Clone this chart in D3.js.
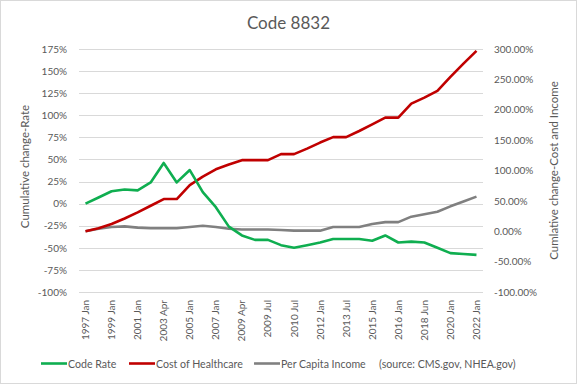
<!DOCTYPE html>
<html>
<head>
<meta charset="utf-8">
<script src="https://cdn.jsdelivr.net/npm/d3@7"></script>
<style>
  body { margin: 0; background: #fff; }
  svg { font-family: Lato, "Open Sans", sans-serif; }
</style>
</head>
<body>
<svg></svg>
<script>
let categories = ['1997 Jan', '1998 Jan', '1999 Jan', '2000 Jan', '2001 Jan', '2002 Jan', '2003 Apr', '2004 Jan',
                  '2005 Jan', '2006 Jan', '2007 Jan', '2008 Jan', '2009 Apr', '2009 Jun', '2009 Jul', '2010 Jan',
                  '2010 Jul', '2011 Jan', '2012 Jan', '2013 Jan', '2013 Jul', '2014 Jan', '2015 Jan', '2015 Jul',
                  '2016 Jan', '2017 Jan', '2018 Jun', '2019 Jan', '2020 Jan', '2021 Jan', '2022 Jan']
// percent values
let codeRate = [0, 7, 14, 16, 15, 24, 46, 24, 38, 13, -4, -26, -36, -41, -41, -47,
                -50, -47, -44, -40, -40, -40, -42, -36, -44, -43, -44, -50, -56, -57, -58]
let costHealthcare = [0, 5, 12, 21, 31, 42, 53, 53, 76, 90, 102, 110, 117, 117, 117, 127,
                      127, 136, 146, 155, 155, 165, 176, 187, 187, 210, 220, 231, 254, 276, 297]
let perCapitaIncome = [0, 4, 7, 8, 6, 5, 5, 5, 7, 9, 7, 4, 3, 3, 3, 2,
                       1, 1, 1, 7, 7, 7, 12, 15, 15, 24, 28, 32, 41, 49, 57]
let leftTicks = [-100, -75, -50, -25, 0, 25, 50, 75, 100, 125, 150, 175]
let rightTicks = [-100, -50, 0, 50, 100, 150, 200, 250, 300]

let w = 577
let h = 384
let plotLeft = 79
let plotRight = 483
let plotTop = 49
let plotBottom = 292
let textColor = '#595959'

let svg = d3.select('svg').attr('width', w).attr('height', h)

svg.append('rect')
   .attr('x', 0.5).attr('y', 0.5)
   .attr('width', w - 1).attr('height', h - 1)
   .attr('fill', '#fff').attr('stroke', '#d9d9d9')

let x = d3.scaleBand().domain(categories).range([plotLeft, plotRight]).padding(0)
let xc = (d) => x(d) + x.bandwidth() / 2
let yLeft = d3.scaleLinear().domain([-100, 175]).range([plotBottom, plotTop])
let yRight = d3.scaleLinear().domain([-100, 300]).range([plotBottom, plotTop])

// title
svg.append('text')
   .attr('x', w / 2).attr('y', 29)
   .attr('text-anchor', 'middle')
   .attr('font-size', '17px')
   .attr('fill', textColor)
   .text('Code 8832')

// gridlines
svg.append('g')
   .selectAll('line')
   .data(leftTicks)
   .enter()
   .append('line')
   .attr('x1', plotLeft).attr('x2', plotRight)
   .attr('y1', (d) => Math.round(yLeft(d)) + 0.5)
   .attr('y2', (d) => Math.round(yLeft(d)) + 0.5)
   .attr('stroke', '#d9d9d9')

// left axis
let leftAxis = d3.axisLeft(yLeft).tickValues(leftTicks).tickSize(0).tickPadding(12)
                 .tickFormat((d) => d + '%')
let gl = svg.append('g').attr('transform', 'translate(' + plotLeft + ',0)').call(leftAxis)
gl.select('.domain').remove()
gl.attr('font-family', null)
gl.selectAll('text').attr('font-size', '10px').attr('fill', textColor)

// right axis
let rightAxis = d3.axisRight(yRight).tickValues(rightTicks).tickSize(0).tickPadding(11)
                  .tickFormat((d) => d.toFixed(2) + '%')
let gr = svg.append('g').attr('transform', 'translate(' + plotRight + ',0)').call(rightAxis)
gr.select('.domain').remove()
gr.attr('font-family', null)
gr.selectAll('text').attr('font-size', '10px').attr('fill', textColor)

// x axis
let xAxis = d3.axisBottom(x).tickValues(categories.filter((d, i) => i % 2 == 0)).tickSize(0)
let gx = svg.append('g').attr('transform', 'translate(0,' + plotBottom + ')').call(xAxis)
gx.select('.domain').remove()
gx.attr('font-family', null)
gx.selectAll('text')
  .attr('font-size', '10px').attr('fill', textColor)
  .attr('transform', 'rotate(-90)')
  .attr('x', -8).attr('y', 0).attr('dy', '0.35em')
  .attr('text-anchor', 'end')

// axis titles
svg.append('text')
   .attr('transform', 'translate(29,' + ((plotTop + plotBottom) / 2 - 4) + ') rotate(-90)')
   .attr('text-anchor', 'middle')
   .attr('font-size', '11.5px').attr('fill', textColor)
   .text('Cumulative change-Rate')
svg.append('text')
   .attr('transform', 'translate(558,' + ((plotTop + plotBottom) / 2) + ') rotate(-90)')
   .attr('text-anchor', 'middle')
   .attr('font-size', '11.5px').attr('fill', textColor)
   .text('Cumlative change-Cost and Income')

// lines
let series = [
  { name: 'Code Rate', values: codeRate, color: '#0fae50', scale: yLeft },
  { name: 'Cost of Healthcare', values: costHealthcare, color: '#c00000', scale: yRight },
  { name: 'Per Capita Income', values: perCapitaIncome, color: '#808080', scale: yRight }
]
let drawOrder = [series[2], series[1], series[0]]
drawOrder.forEach((s) => {
  let line = d3.line().x((d, i) => xc(categories[i])).y((d) => s.scale(d))
  svg.append('path')
     .datum(s.values)
     .attr('d', line)
     .attr('fill', 'none')
     .attr('stroke', s.color)
     .attr('stroke-width', 2.6)
     .attr('stroke-linejoin', 'round')
})

// legend
let legendX = [41, 129, 254]
let lg = svg.append('g')
series.forEach((s, i) => {
  lg.append('line')
    .attr('x1', legendX[i]).attr('x2', legendX[i] + 26)
    .attr('y1', 363.5).attr('y2', 363.5)
    .attr('stroke', s.color).attr('stroke-width', 2.6)
  lg.append('text')
    .attr('x', legendX[i] + 27).attr('y', 367.5)
    .attr('font-size', '10.6px').attr('fill', textColor)
    .text(s.name)
})
lg.append('text')
  .attr('x', 379).attr('y', 367.5)
  .attr('font-size', '10.6px').attr('fill', textColor)
  .text('(source: CMS.gov, NHEA.gov)')
</script>
</body>
</html>
